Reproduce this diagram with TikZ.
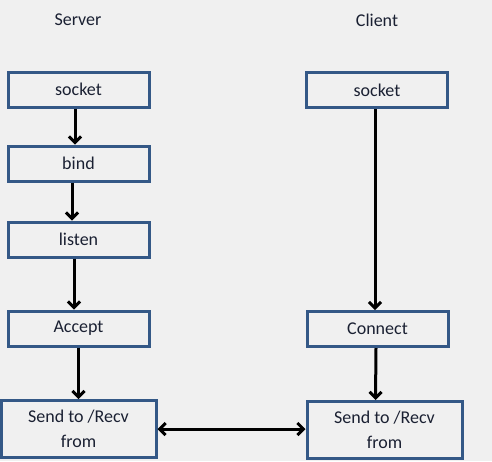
\documentclass[tikz,border=0pt]{standalone}
\usepackage{fontspec}
\setmainfont{Carlito}
\usetikzlibrary{arrows.meta}
\definecolor{bgray}{RGB}{240,240,240}
\definecolor{boxblue}{RGB}{52,88,134}
\definecolor{txt}{RGB}{26,32,50}

\begin{document}
\begin{tikzpicture}[x=1pt,y=-1pt,
  every node/.style={text=txt,font=\fontsize{18}{25}\selectfont},
  stepbox/.style={draw=boxblue,line width=3pt,minimum width=141pt,minimum height=35pt,inner sep=0pt},
  iobox/.style={stepbox,minimum width=155pt,minimum height=57pt,align=center},
  flow/.style={line width=3pt,-{Straight Barb[length=6pt,width=12pt]}},
  twoway/.style={line width=3pt,{Straight Barb[length=6pt,width=12pt]}-{Straight Barb[length=6pt,width=12pt]}}]
  \fill[bgray] (0,0) rectangle (492,461);
  \useasboundingbox (0,0) rectangle (492,461);

  \node (srv) at (78,20) {Server};
  \node (cli) at (377,20) {Client};

  \node[stepbox] (ssock) at (78.5,89.5) {socket};
  \node[stepbox] (sbind) at (78.5,163.5) {bind};
  \node[stepbox] (slisten) at (78.5,239.5) {listen};
  \node[stepbox] (saccept) at (78.5,328.5) {Accept};
  \node[iobox] (ssend) at (78.5,429) {Send to /Recv\\from};

  \node[stepbox] (csock) at (377,90) {socket};
  \node[stepbox] (cconn) at (377.5,329) {Connect};
  \node[iobox] (csend) at (384.5,430) {Send to /Recv\\from};

  \draw[flow] ([xshift=-3.5pt]ssock.south) -- ([xshift=-3.5pt]sbind.north);
  \draw[flow] ([xshift=-6.5pt]sbind.south) -- ([xshift=-6.5pt]slisten.north);
  \draw[flow] ([xshift=-4.5pt]slisten.south) -- ([xshift=-4.5pt]saccept.north);
  \draw[flow] (saccept.south) -- (ssend.north);
  \draw[flow] ([xshift=-2pt]csock.south) -- ([xshift=-2.5pt]cconn.north);
  \draw[flow] ([xshift=-1.5pt]cconn.south) -- ([xshift=-9pt]csend.north);
  \draw[twoway] (ssend.east) -- (csend.west |- ssend.east);
\end{tikzpicture}
\end{document}
